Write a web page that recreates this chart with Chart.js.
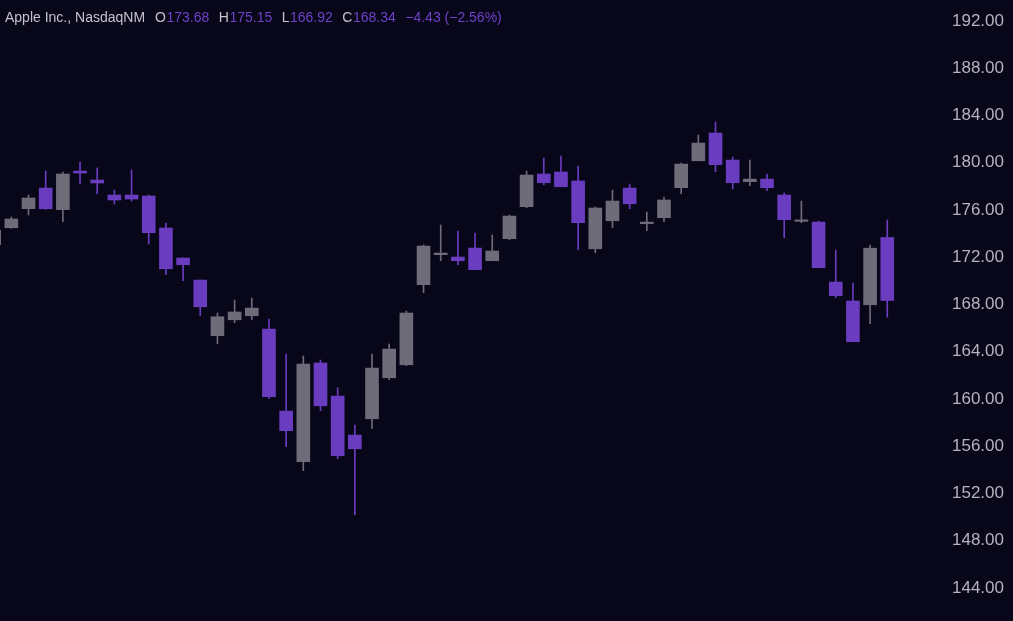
<!DOCTYPE html>
<html>
<head>
<meta charset="utf-8">
<script src="https://cdn.jsdelivr.net/npm/chart.js@4.4.1/dist/chart.umd.min.js"></script>
<style>
  html, body { margin: 0; padding: 0; background: #080619; }
  #wrap { width: 1013px; height: 621px; position: relative; }
</style>
</head>
<body>
<div id="wrap"><canvas id="chart"></canvas></div>
<script>
// daily candles, oldest first (first one is cut off at the left edge)
const opens = [
  173.06, 174.50, 176.11, 177.86, 176.03, 179.30, 178.54, 177.27, 177.27, 177.19,
  174.48, 171.94, 170.07, 165.36, 166.71, 167.05, 165.93, 158.98, 154.69, 163.05,
  160.25, 156.95, 158.33, 161.80, 162.90, 169.68, 172.22, 172.02, 172.78, 171.71,
  173.57, 176.28, 179.05, 179.22, 178.46, 172.72, 175.09, 177.86, 174.84, 175.35,
  177.89, 180.17, 182.52, 180.23, 178.40, 178.62, 177.27, 175.04, 174.98, 169.90,
  168.30, 167.98, 173.68
];
const highs = [
  174.35, 175.41, 177.27, 179.30, 179.22, 180.06, 179.56, 177.69, 179.39, 177.27,
  174.90, 171.94, 170.07, 167.28, 168.38, 168.55, 166.77, 163.81, 163.64, 163.30,
  160.96, 157.80, 163.81, 164.66, 167.45, 173.04, 174.73, 174.22, 174.05, 173.88,
  175.58, 179.30, 180.40, 180.57, 179.72, 176.25, 177.69, 178.20, 175.83, 177.10,
  179.98, 182.35, 183.45, 180.49, 180.23, 179.05, 177.44, 176.76, 175.07, 172.61,
  169.82, 173.04, 175.15
];
const lows = [
  172.95, 174.45, 175.58, 176.05, 175.01, 178.20, 177.38, 176.51, 176.76, 173.12,
  170.52, 170.02, 167.05, 164.68, 166.46, 166.71, 160.03, 155.96, 153.93, 159.01,
  154.95, 150.21, 157.49, 161.63, 162.82, 169.00, 171.71, 171.37, 170.95, 171.71,
  173.49, 176.20, 178.14, 177.97, 172.64, 172.39, 174.50, 176.11, 174.25, 175.01,
  177.38, 180.17, 179.24, 177.80, 178.06, 177.63, 173.66, 174.93, 171.12, 168.58,
  164.85, 166.38, 166.92
];
const closes = [
  174.28, 175.24, 177.02, 176.11, 179.05, 179.13, 178.29, 176.85, 176.93, 174.08,
  171.03, 171.37, 167.81, 166.97, 167.37, 167.70, 160.19, 157.32, 162.96, 159.43,
  155.20, 155.79, 162.62, 164.23, 167.28, 172.95, 172.36, 171.71, 170.95, 172.53,
  175.49, 178.96, 178.31, 177.97, 174.93, 176.17, 176.76, 176.53, 174.98, 176.85,
  179.89, 181.67, 179.84, 178.31, 178.62, 177.89, 175.18, 175.15, 171.12, 168.75,
  164.85, 172.77, 168.34
];
const yTicks = [192, 188, 184, 180, 176, 172, 168, 164, 160, 156, 152, 148, 144];
const symbolName = "Apple Inc., NasdaqNM";

const UP = "#6d6c78";
const DOWN = "#6a3cc0";

const candleColors = opens.map((o, i) => closes[i] >= o ? UP : DOWN);
const bodies = opens.map((o, i) => ({ x: i, y: [o, closes[i]] }));
const wicks = lows.map((l, i) => ({ x: i, y: [l, highs[i]] }));

// legend line at the top left (O H L C of the last candle + change)
const headerPlugin = {
    id: "header",
    afterDraw(chart) {
        const ctx = chart.ctx;
        const last = closes.length - 1;
        const chg = closes[last] - closes[last - 1];
        const pct = chg / closes[last - 1] * 100;
        const fmt = v => (v < 0 ? "\u2212" : "") + Math.abs(v).toFixed(2);
        const grey = "#c3c3cb";
        const purple = "#6e42c8";
        const parts = [
            [symbolName, grey, 10],
            ["O", grey, 0.5], [opens[last].toFixed(2), purple, 9.5],
            ["H", grey, 0.5], [highs[last].toFixed(2), purple, 9.5],
            ["L", grey, 0.5], [lows[last].toFixed(2), purple, 9.5],
            ["C", grey, 0.5], [closes[last].toFixed(2), purple, 9.5],
            [fmt(chg) + " (" + fmt(pct) + "%)", purple, 0]
        ];
        ctx.save();
        ctx.font = "14px 'Liberation Sans', sans-serif";
        ctx.textBaseline = "alphabetic";
        ctx.textAlign = "left";
        let x = 5;
        parts.forEach(([txt, col, gap]) => {
            ctx.fillStyle = col;
            ctx.fillText(txt, x, 22);
            x += ctx.measureText(txt).width + gap;
        });
        ctx.restore();
    }
};

new Chart(document.getElementById("chart"), {
    type: "bar",
    data: {
        datasets: [
            {
                label: "body",
                data: bodies,
                backgroundColor: candleColors,
                barThickness: 13,
                minBarLength: 1.5,
                grouped: false,
                borderWidth: 0
            },
            {
                label: "wick",
                data: wicks,
                backgroundColor: candleColors,
                barThickness: 1,
                grouped: false,
                borderWidth: 0
            }
        ]
    },
    options: {
        responsive: true,
        maintainAspectRatio: false,
        animation: false,
        layout: { padding: 0 },
        plugins: {
            legend: { display: false },
            tooltip: { enabled: false }
        },
        scales: {
            x: {
                type: "linear",
                display: false,
                min: 0.34,
                max: 55.07,
                offset: false
            },
            y: {
                position: "right",
                min: 141.21,
                max: 193.78,
                grid: { display: false, tickLength: 0 },
                border: { display: false },
                afterBuildTicks: (scale) => {
                    scale.ticks = yTicks.map(v => ({ value: v }));
                },
                afterFit: (scale) => {
                    scale.width = 73;
                    scale.paddingTop = 0;
                    scale.paddingBottom = 0;
                },
                ticks: {
                    crossAlign: "near",
                    padding: 12,
                    color: "#b4b4bc",
                    font: { family: "'Liberation Sans', sans-serif", size: 17 },
                    callback: v => v.toFixed(2)
                }
            }
        }
    },
    plugins: [headerPlugin]
});
</script>
</body>
</html>
